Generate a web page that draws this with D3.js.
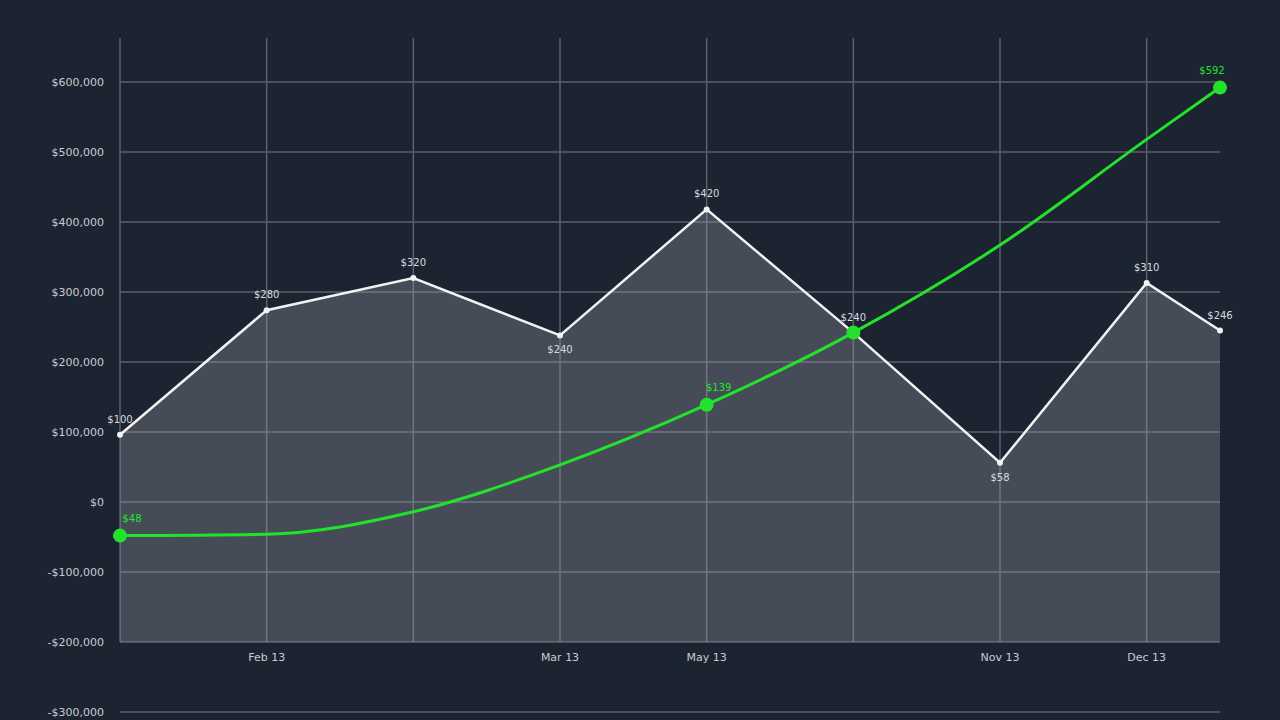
<!DOCTYPE html>
<html><head><meta charset="utf-8">
<script src="https://cdn.jsdelivr.net/npm/d3@7"></script>
<style>body{margin:0;background:#1c2331;}svg{display:block;font-family:"DejaVu Sans",sans-serif;}</style>
</head><body><svg width="1280" height="720"></svg>
<script>
// data (values in $ thousands)
var xs = [0, 1, 2, 3, 4, 5, 6, 7, 7.5]
var revenue = [96, 274, 320, 238, 418, 242, 56, 313, 245]
var trend = [-48, -46, -14, 53, 139, 242, 367, 518, 592]
var dotIdx = [0, 4, 5, 8]
var revLabels = ["$100", "$280", "$320", "$240", "$420", "$240", "$58", "$310", "$246"]
var trendLabels = {0: "$48", 4: "$139", 8: "$592"}
var yTicks = [600, 500, 400, 300, 200, 100, 0, -100, -200, -300]
var xTickPos = [1, 3, 4, 6, 7]
var xTickLabels = ["Feb 13", "Mar 13", "May 13", "Nov 13", "Dec 13"]

var svg = d3.select("svg")
var x = d3.scaleLinear().domain([0, 7.5]).range([120, 1220])
var y = d3.scaleLinear().domain([-300, 600]).range([712, 82])

function fmt(v){ return (v < 0 ? "-$" : "$") + d3.format(",")(Math.abs(v) * 1000) }

// grid
svg.selectAll(".hg").data(yTicks).enter().append("line")
  .attr("x1", 120).attr("x2", 1220).attr("y1", y).attr("y2", y)
  .attr("stroke", "#5b616c").attr("stroke-width", 1.5)
svg.selectAll(".vg").data(d3.range(0, 8)).enter().append("line")
  .attr("x1", x).attr("x2", x).attr("y1", 38).attr("y2", 642)
  .attr("stroke", "#5b616c").attr("stroke-width", 1.5)

// area under revenue
var pts = xs.map(function(d, i){ return [d, revenue[i]] })
svg.append("path").datum(pts)
  .attr("d", d3.area().x(function(d){return x(d[0])}).y0(y(-200)).y1(function(d){return y(d[1])}))
  .attr("fill", "#9aa0aa").attr("fill-opacity", 0.33)
svg.append("path").datum(pts)
  .attr("d", d3.line().x(function(d){return x(d[0])}).y(function(d){return y(d[1])}))
  .attr("fill", "none").attr("stroke", "#f2f2f2").attr("stroke-width", 2.5)
svg.selectAll(".rl").data(pts).enter().append("text")
  .attr("x", function(d){return x(d[0])})
  .attr("y", function(d, i){ return y(d[1]) + (i == 3 || i == 6 ? 18 : -12) })
  .attr("text-anchor", "middle").attr("fill", "#d8dadf").attr("font-size", 10)
  .text(function(d, i){ return revLabels[i] })
svg.selectAll(".rd").data(pts).enter().append("circle")
  .attr("cx", function(d){return x(d[0])}).attr("cy", function(d){return y(d[1])})
  .attr("r", 3).attr("fill", "#f2f2f2")

// trend
var tpts = xs.map(function(d, i){ return [d, trend[i]] })
svg.append("path").datum(tpts)
  .attr("d", d3.line().curve(d3.curveMonotoneX).x(function(d){return x(d[0])}).y(function(d){return y(d[1])}))
  .attr("fill", "none").attr("stroke", "#22e32a").attr("stroke-width", 3)
svg.selectAll(".td").data(dotIdx).enter().append("circle")
  .attr("cx", function(i){return x(xs[i])}).attr("cy", function(i){return y(trend[i])})
  .attr("r", 7).attr("fill", "#22e32a")
svg.selectAll(".tl").data(Object.keys(trendLabels)).enter().append("text")
  .attr("x", function(i){return x(xs[i]) + (i == 8 ? -8 : 12)})
  .attr("y", function(i){return y(trend[i]) - 14})
  .attr("text-anchor", "middle").attr("fill", "#22e32a").attr("font-size", 10)
  .text(function(i){return trendLabels[i]})

// axes labels
svg.selectAll(".yl").data(yTicks).enter().append("text")
  .attr("x", 104).attr("y", function(d){return y(d) + 4})
  .attr("text-anchor", "end").attr("fill", "#c9ccd2").attr("font-size", 11)
  .text(fmt)
svg.selectAll(".xl").data(xTickPos).enter().append("text")
  .attr("x", x).attr("y", 661)
  .attr("text-anchor", "middle").attr("fill", "#c9ccd2").attr("font-size", 11)
  .text(function(d, i){return xTickLabels[i]})
</script></body></html>
